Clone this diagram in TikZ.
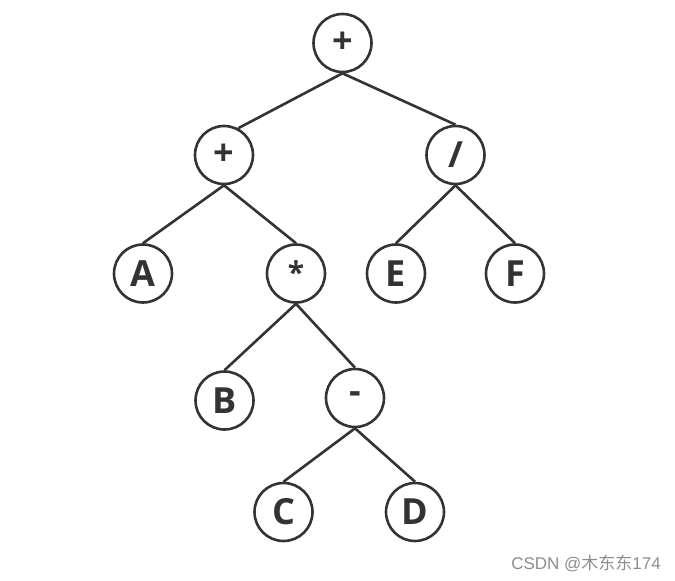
\documentclass[tikz,border=0pt]{standalone}
\usepackage{fontspec}
\setmainfont{Open Sans}
\newfontfamily\cjk{Noto Sans CJK SC}
\definecolor{ink}{HTML}{333333}
\begin{document}
\begin{tikzpicture}[x=1pt,y=-1pt,
  tnode/.style={circle,draw=ink,line width=2.6pt,minimum size=58pt,inner sep=0pt,text=ink,font=\fontsize{36}{36}\selectfont\bfseries},
  edge/.style={draw=ink,line width=2.6pt}]
\useasboundingbox (0,0) rectangle (675,581);
\node[tnode] (r) at (342.5,43) {+};
\node[tnode] (l) at (224,155) {+};
\node[tnode] (d) at (455.5,155) {/};
\node[tnode] (a) at (143,273.5) {A};
\node[tnode] (m) at (296,273.5) {\raisebox{2pt}{\fontsize{30}{30}\selectfont *}};
\node[tnode] (e) at (396,273.5) {E};
\node[tnode] (f) at (515,273.5) {F};
\node[tnode] (b) at (224.5,400.5) {B};
\node[tnode] (s) at (355,398) {-};
\node[tnode] (c) at (283.5,512) {C};
\node[tnode] (dd) at (415,512) {D};
\draw[edge] (r.south) -- (l.62);
\draw[edge] (r.south) -- (d.north);
\draw[edge] (l.south) -- (a.north);
\draw[edge] (l.south) -- (m.north);
\draw[edge] (d.south) -- (e.north);
\draw[edge] (d.south) -- (f.north);
\draw[edge] (m.south) -- (b.north);
\draw[edge] (m.south) -- (s.north);
\draw[edge] (s.south) -- (c.north);
\draw[edge] (s.south) -- (dd.north);
\node[anchor=east,text=black!45,font=\fontsize{17}{17}\selectfont,inner sep=0pt] (wm) at (661,563) {{\fontspec{Liberation Sans}CSDN @}{\cjk 木东东}{\fontspec{Liberation Sans}174}};
\end{tikzpicture}
\end{document}
